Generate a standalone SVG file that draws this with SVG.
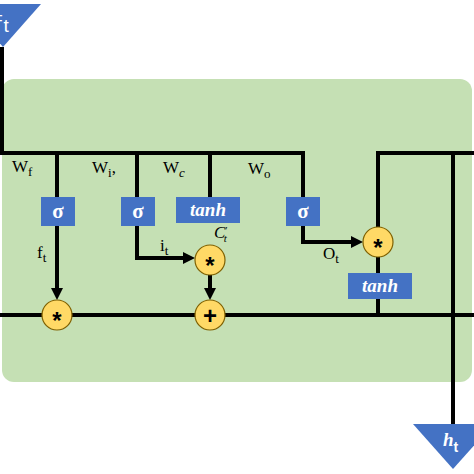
<svg xmlns="http://www.w3.org/2000/svg" width="474" height="474" viewBox="0 0 474 474">
<style>
.wire{fill:none;stroke:#000;stroke-width:4}
.box{fill:#4472C4}
.op{fill:#FFD966;stroke:#7F6000;stroke-width:1.2}
.sig{font-family:"Liberation Serif",serif;font-weight:bold;font-size:21px;fill:#fff;text-anchor:middle}
.tanh{font-family:"Liberation Serif",serif;font-weight:bold;font-style:italic;font-size:19px;fill:#fff;text-anchor:middle}
.lbl{font-family:"Liberation Serif",serif;font-size:17px;fill:#000}
.sub{font-size:13px}
.opt{font-family:"Liberation Sans",sans-serif;font-weight:bold;font-size:24px;fill:#000;text-anchor:middle}
.io{font-family:"Liberation Serif",serif;font-weight:bold;font-style:italic;font-size:19px;fill:#fff}
</style>
<defs>
<marker id="arr" viewBox="0 0 12 12" refX="3" refY="6" markerWidth="12" markerHeight="12" markerUnits="userSpaceOnUse" orient="auto">
<path d="M0,0 L12,6 L0,12 z" fill="#000"/>
</marker>
</defs>
<rect x="2" y="79" width="470" height="303" rx="12" fill="#C5E0B4"/>
<g id="connectors">
<path class="wire" d="M2,47 V153 H303 V197"/>
<path class="wire" d="M57,153 V197"/>
<path class="wire" d="M137,153 V197"/>
<path class="wire" d="M210,153 V197"/>
<path class="wire" d="M57,226 V291" marker-end="url(#arr)"/>
<path class="wire" d="M137,226 V258 H186" marker-end="url(#arr)"/>
<path class="wire" d="M210,275 V291" marker-end="url(#arr)"/>
<path class="wire" d="M303,226 V242 H354" marker-end="url(#arr)"/>
<path class="wire" d="M0,315 H474"/>
<path class="wire" d="M378,227 V153 H474"/>
<path class="wire" d="M453,153 V424"/>
<path class="wire" d="M378,257 V273"/>
<path class="wire" d="M378,299 V315"/>
</g>
<g id="input-top">
<polygon points="-35,4 41,4 3,47" fill="#4472C4"/>
<text x="-6" y="25" font-family="Liberation Sans,sans-serif" font-size="14px" fill="#fff">F<tspan dx="1" dy="7" font-size="19px">t</tspan></text>
</g>
<g id="forget-gate">
<rect class="box" x="41" y="197" width="34" height="29"/>
<text class="sig" x="58" y="218">σ</text>
</g>
<g id="input-gate">
<rect class="box" x="121" y="197" width="34" height="29"/>
<text class="sig" x="138" y="218">σ</text>
</g>
<g id="candidate">
<rect class="box" x="176" y="197" width="64" height="26"/>
<text class="tanh" x="208" y="216">tanh</text>
</g>
<g id="output-gate">
<rect class="box" x="286" y="197" width="34" height="29"/>
<text class="sig" x="303" y="218">σ</text>
</g>
<g id="mul-f">
<circle class="op" cx="57" cy="315" r="15"/>
<text class="opt" x="57" y="329">*</text>
</g>
<g id="mul-i">
<circle class="op" cx="210" cy="260" r="15"/>
<text class="opt" x="210" y="274">*</text>
</g>
<g id="add">
<circle class="op" cx="210" cy="315" r="15"/>
<text class="opt" x="210" y="324">+</text>
</g>
<g id="mul-o">
<circle class="op" cx="378" cy="242" r="15"/>
<text class="opt" x="378" y="256">*</text>
</g>
<g id="tanh-out">
<rect class="box" x="348" y="273" width="64" height="26"/>
<text class="tanh" x="380" y="292">tanh</text>
</g>
<g id="output-bottom">
<polygon points="413,424 493,424 453,469" fill="#4472C4"/>
<text class="io" x="443" y="446">h<tspan dy="6" font-family="Liberation Sans,sans-serif" font-style="normal" font-size="14px">t</tspan></text>
</g>
<g id="labels">
<text class="lbl" x="12" y="172">W<tspan class="sub" dy="4">f</tspan></text>
<text class="lbl" x="92" y="173">W<tspan class="sub" dy="4">i</tspan><tspan dy="-4">,</tspan></text>
<text class="lbl" x="163" y="173">W<tspan class="sub" dy="4" font-style="italic">c</tspan></text>
<text class="lbl" x="248" y="174">W<tspan class="sub" dy="4">o</tspan></text>
<text class="lbl" x="37" y="258">f<tspan class="sub" dy="4">t</tspan></text>
<text class="lbl" x="160" y="251">i<tspan class="sub" dy="4">t</tspan></text>
<text class="lbl" x="214" y="238" font-style="italic" font-size="15px">C<tspan font-size="11px" dx="0" dy="-4" font-style="normal">′</tspan><tspan font-size="11px" dx="-4" dy="8">t</tspan></text>
<text class="lbl" x="323" y="259">O<tspan class="sub" dy="4">t</tspan></text>
</g>
</svg>
